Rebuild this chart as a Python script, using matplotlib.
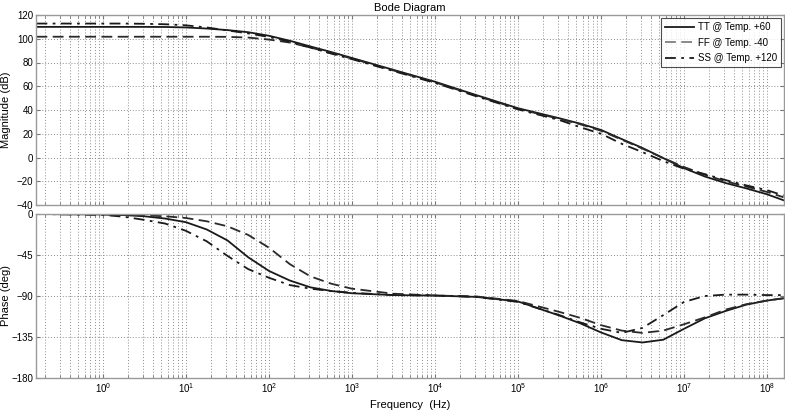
import matplotlib
matplotlib.use('Agg')
import matplotlib.pyplot as plt
from matplotlib.ticker import LogLocator, FixedLocator, NullFormatter

plt.rcParams['font.family'] = ['Liberation Sans', 'DejaVu Sans']
plt.rcParams['mathtext.default'] = 'regular'

# frequency points (Hz)
freq = [0.158, 1, 1.78, 3.16, 5.62, 10, 17.8, 31.6, 56.2, 100, 178, 316, 562,
        1e3, 3.16e3, 1e4, 3.16e4, 1e5, 3.16e5, 5.62e5, 1e6, 1.78e6, 3.16e6,
        5.62e6, 1e7, 1.78e7, 3.16e7, 5.62e7, 1e8, 1.58e8]

# magnitude (dB)
mag_tt = [110, 110, 110, 110, 109.9, 109.5, 108.6, 107.3, 105.5, 102.5, 98.3, 93.5, 88.8,
          83.8, 73.8, 63.8, 52.5, 41.5, 33, 28.5, 23.2, 15.5, 8,
          -0.5, -9, -16, -21.5, -26, -31, -36]
mag_ff = [101.7, 101.7, 101.7, 101.7, 101.7, 101.7, 101.7, 101.6, 101.0, 99.3, 96.8, 92.6, 88.0,
          83.3, 73.3, 63.3, 52, 41, 32.5, 28, 22.5, 15, 7.5,
          -0.5, -8, -14.5, -20, -24.5, -29, -33.5]
mag_ss = [112.8, 112.8, 112.8, 112.6, 112.2, 111.3, 109.5, 107, 104.5, 101.5, 97.5, 92.5, 87.5,
          82.8, 72.8, 62.8, 51.5, 40.5, 31.5, 25.5, 20, 11.5, 4.5,
          -3, -9.5, -14, -19, -23.5, -27.5, -32]

# phase (deg)
ph_tt = [0, -0.5, -1.2, -2.5, -5, -9, -17, -29, -47.5, -62.5, -73, -80.5, -84.5,
         -87, -89, -89.5, -91, -96, -111.5, -120, -130, -138.5, -141,
         -138, -126, -114.5, -106.5, -99.5, -95, -92.5]
ph_ff = [0, -0.5, -0.8, -1.5, -2.5, -4.4, -8, -13.5, -23, -37, -55, -68.5, -76.5,
         -82, -87.5, -89.5, -90.5, -95.5, -107.5, -114, -122, -128, -130.5,
         -128, -121, -113.5, -105, -99, -95, -92.5]
ph_ss = [0, -1, -3, -6.5, -10.5, -18.5, -30, -46, -60.5, -70, -78, -82, -84.5,
         -86.5, -89, -89.5, -91, -96.5, -111, -119, -126, -130.5, -125,
         -111, -96.5, -90, -88.5, -88.5, -89, -89]

labels = ['TT @ Temp. +60', 'FF @ Temp. -40', 'SS @ Temp. +120']
styles = ['-', (0, (6, 3)), (0, (6, 3, 1.5, 3))]
colors = ['#1a1a1a', '#2a2a2a', '#1a1a1a']

W, H = 785, 413
fig = plt.figure(figsize=(W / 100, H / 100), dpi=100)
left, right = 36, 784
ax1 = fig.add_axes([left / W, 1 - 205 / H, (right - left) / W, 190 / H])
ax2 = fig.add_axes([left / W, 1 - 378 / H, (right - left) / W, 164 / H])

for mag, ph, st, c, lb in zip([mag_tt, mag_ff, mag_ss], [ph_tt, ph_ff, ph_ss], styles, colors, labels):
    ax1.plot(freq, mag, linestyle=st, color=c, lw=1.3, label=lb)
    ax2.plot(freq, ph, linestyle=st, color=c, lw=1.3, label=lb)

for ax in (ax1, ax2):
    ax.set_xscale('log')
    ax.set_xlim(0.156, 1.6e8)
    ax.xaxis.set_major_locator(LogLocator(base=10, numticks=20))
    ax.xaxis.set_minor_locator(LogLocator(base=10, subs=range(2, 10), numticks=100))
    ax.xaxis.set_minor_formatter(NullFormatter())
    ax.grid(True, which='major', linestyle=(0, (1, 2)), color='#8c8c8c', lw=0.7)
    ax.grid(True, which='minor', axis='x', linestyle=(0, (1, 2)), color='#8c8c8c', lw=0.7)
    ax.tick_params(which='both', direction='in', top=True, right=True, labelsize=7,
                   color='#777777', pad=2)
    ax.tick_params(which='major', length=3)
    ax.tick_params(which='minor', length=2)
    for s in ax.spines.values():
        s.set_color('#9a9a9a')
        s.set_linewidth(1.0)
    ax.yaxis.set_label_coords(-0.034, 0.5)

ax1.set_ylim(-40, 120)
ax1.yaxis.set_major_locator(FixedLocator([-40, -20, 0, 20, 40, 60, 80, 100, 120]))
ax1.tick_params(labelbottom=False)
ax1.set_ylabel('Magnitude (dB)', fontsize=8)
ax1.set_title('Bode Diagram', fontsize=8, pad=3)

ax2.set_ylim(-180, 0)
ax2.yaxis.set_major_locator(FixedLocator([-180, -135, -90, -45, 0]))
ax2.set_ylabel('Phase (deg)', fontsize=8)
ax2.set_xlabel('Frequency  (Hz)', fontsize=8, labelpad=4)

leg = ax1.legend(loc='upper right', fontsize=7, frameon=True, fancybox=False,
                 borderpad=0.4, handlelength=3.0, handletextpad=0.4, labelspacing=0.55,
                 borderaxespad=0.35)
leg.get_frame().set_edgecolor('#222222')
leg.get_frame().set_linewidth(0.8)
leg.legend_handles[1].set_color('#808080')

fig.savefig('out.png', dpi=100)
